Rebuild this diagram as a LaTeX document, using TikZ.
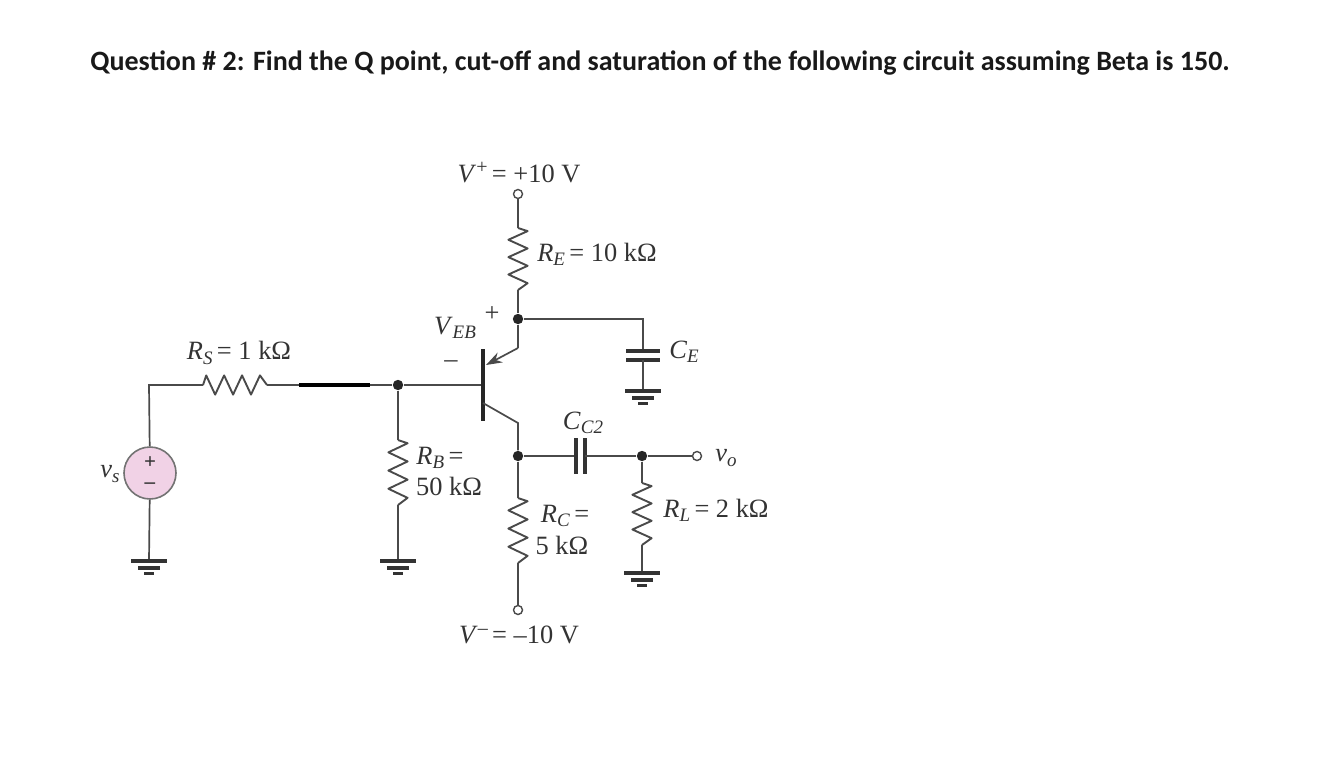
\documentclass[tikz,border=0pt]{standalone}
\usepackage{fontspec}
\setmainfont{Liberation Serif}
\newfontfamily\titlefont{Carlito}
\usepackage{xcolor}
\usetikzlibrary{arrows,arrows.meta,positioning,calc}
\definecolor{wirecol}{HTML}{4A4A4A}
\definecolor{labelcol}{HTML}{333333}
\definecolor{srccol}{HTML}{F1D2E6}
\newcommand{\sym}[2]{\textit{#1}\raisebox{-0.35ex}{\fontsize{9.5}{9.5}\selectfont\textit{#2}}}
\newcommand{\supr}[1]{\raisebox{0.75ex}{\fontsize{10}{10}\selectfont #1}}
% resistor between two named coordinates
\newcommand{\zigzag}[2]{\draw[wire,line width=0.95pt,line join=round] (#1)
    \foreach \f/\s in {0.05/4.8pt,0.19/-4.8pt,0.33/4.8pt,0.47/-4.8pt,0.61/4.8pt,0.75/-4.8pt,0.89/4.8pt}
    {-- ($(#1)!\f!(#2)!\s!90:(#2)$)} -- (#2);}
\tikzstyle{wire} = [color=wirecol,line width=0.85pt]
\tikzstyle{plate} = [color=black!80,line width=1.6pt]
\tikzstyle{dot} = [circle,fill=black!85,inner sep=0pt,minimum size=5.2pt]
\tikzstyle{term} = [circle,draw=wirecol,fill=white,line width=0.7pt,inner sep=0pt,minimum size=4.5pt]
\tikzstyle{lab} = [color=labelcol,font=\fontsize{13.2}{15}\selectfont,inner sep=0pt]
\tikzstyle{sign} = [color=labelcol,font=\fontsize{10.5}{10.5}\selectfont,inner sep=0pt]
\tikzset{gnd/.pic={
    \draw[plate] (-18,0) -- (18,0);
    \draw[plate] (-11,7) -- (11,7);
    \draw[plate] (-5,12.5) -- (5,12.5);
}}

\begin{document}
\begin{tikzpicture}[x=0.5pt,y=-0.5pt,>=stealth]
    \useasboundingbox (0,0) rectangle (1332,760);

    % heading
    \node[anchor=west,inner sep=0pt,font=\titlefont\bfseries\fontsize{14}{16}\selectfont,color=black!90] (title) at (90,63)
        {Question \# 2: Find the Q point, cut-off and saturation of the following circuit assuming Beta is 150.};

    % source and junctions
    \node[circle,draw=black!55,fill=srccol,line width=0.8pt,inner sep=0pt,minimum size=26pt] (vs) at (150,473) {};
    \node[sign] at (150,463) (vsplus) {\bfseries +};
    \node[sign] at (150,486) (vsminus) {\textbf{--}};
    \node[dot] (jb) at (398,385) {};
    \node[dot] (je) at (518,319) {};
    \node[dot] (jc) at (518,456) {};
    \node[dot] (jo) at (642,456) {};
    \node[term] (vplus) at (518,194) {};
    \node[term] (vminus) at (518,610) {};
    \node[term] (vout) at (697,456) {};

    % corners and end points
    \coordinate (c1) at (149,385);
    \coordinate (c2) at (643,319);
    \coordinate (rsa) at (203,385);
    \coordinate (rsb) at (267,385);
    \coordinate (tha) at (299,385);
    \coordinate (thb) at (370,385);
    \coordinate (rba) at (398,440);
    \coordinate (rbb) at (398,505);
    \coordinate (rea) at (518,228);
    \coordinate (reb) at (518,290);
    \coordinate (rca) at (518,498);
    \coordinate (rcb) at (518,563);
    \coordinate (rla) at (642,483);
    \coordinate (rlb) at (642,545);
    \coordinate (base) at (483,385);
    \coordinate (bartop) at (483,349);
    \coordinate (barbot) at (483,421);
    \coordinate (ekink) at (518,348);
    \coordinate (etip) at (486,365);
    \coordinate (cstart) at (483,403);
    \coordinate (ckink) at (518,423);
    \coordinate (cea) at (643,351);
    \coordinate (ceb) at (643,360);
    \coordinate (cca) at (576,456);
    \coordinate (ccb) at (585,456);
    \coordinate (g1) at (149,561);
    \coordinate (g2) at (398,561);
    \coordinate (g3) at (643,391);
    \coordinate (g4) at (642,573);

    % input side
    \draw[wire] (vs) -- (c1) -- (rsa);
    \zigzag{rsa}{rsb}
    \draw[wire] (rsb) -- (tha);
    \draw[line width=1.6pt,color=black] (tha) -- (thb);
    \draw[wire] (thb) -- (jb) -- (base);
    \draw[wire] (vs) -- (g1);
    \draw[wire] (jb) -- (rba);
    \zigzag{rba}{rbb}
    \draw[wire] (rbb) -- (g2);

    % transistor
    \draw[color=black!85,line width=2.4pt] (bartop) -- (barbot);
    \draw[wire] (je) -- (ekink);
    \draw[wire,-{Stealth[length=8pt,width=5.5pt]}] (ekink) -- (etip);
    \draw[wire] (cstart) -- (ckink) -- (jc);

    % emitter branch
    \draw[wire] (vplus) -- (rea);
    \zigzag{rea}{reb}
    \draw[wire] (reb) -- (je);
    \draw[wire] (je) -- (c2) -- (cea);
    \draw[plate] ([xshift=-8.5pt]cea) -- ([xshift=8.5pt]cea);
    \draw[plate] ([xshift=-8.5pt]ceb) -- ([xshift=8.5pt]ceb);
    \draw[wire] (ceb) -- (g3);

    % collector branch
    \draw[wire] (jc) -- (cca);
    \draw[plate] ([yshift=9pt]cca) -- ([yshift=-9pt]cca);
    \draw[plate] ([yshift=9pt]ccb) -- ([yshift=-9pt]ccb);
    \draw[wire] (ccb) -- (jo) -- (vout);
    \draw[wire] (jc) -- (rca);
    \zigzag{rca}{rcb}
    \draw[wire] (rcb) -- (vminus);
    \draw[wire] (jo) -- (rla);
    \zigzag{rla}{rlb}
    \draw[wire] (rlb) -- (g4);

    % grounds
    \pic at (g1) {gnd};
    \pic at (g2) {gnd};
    \pic at (g3) {gnd};
    \pic at (g4) {gnd};

    % labels
    \node[lab] (lvs) at (110,474) {\sym{v}{s}};
    \node[lab] (lrs) at (239,353) {\sym{R}{S}\,= 1 kΩ};
    \node[lab] (lrb) at (440,458) {\sym{R}{B}\,=};
    \node[lab] (lrbv) at (449,486) {50 kΩ};
    \node[lab] (lvp) at (519,173) {\textit{V}\supr{+}\,= +10 V};
    \node[lab] (lre) at (597,254) {\sym{R}{E}\,= 10 kΩ};
    \node[lab] (lveb) at (455,328) {\sym{V}{EB}};
    \node[lab] (lplus) at (492,314) {+};
    \node[lab] (lminus) at (451,364) {--};
    \node[lab] (lce) at (684,352) {\sym{C}{E}};
    \node[lab] (lcc) at (583,423) {\sym{C}{C2}};
    \node[lab] (lvo) at (726,458) {\sym{v}{o}};
    \node[lab] (lrl) at (716,510) {\sym{R}{L}\,= 2 kΩ};
    \node[lab] (lrc) at (565,516) {\sym{R}{C}\,=};
    \node[lab] (lrcv) at (562,545) {5 kΩ};
    \node[lab] (lvm) at (519,635) {\textit{V}\supr{--}\,= --10 V};
\end{tikzpicture}
\end{document}
